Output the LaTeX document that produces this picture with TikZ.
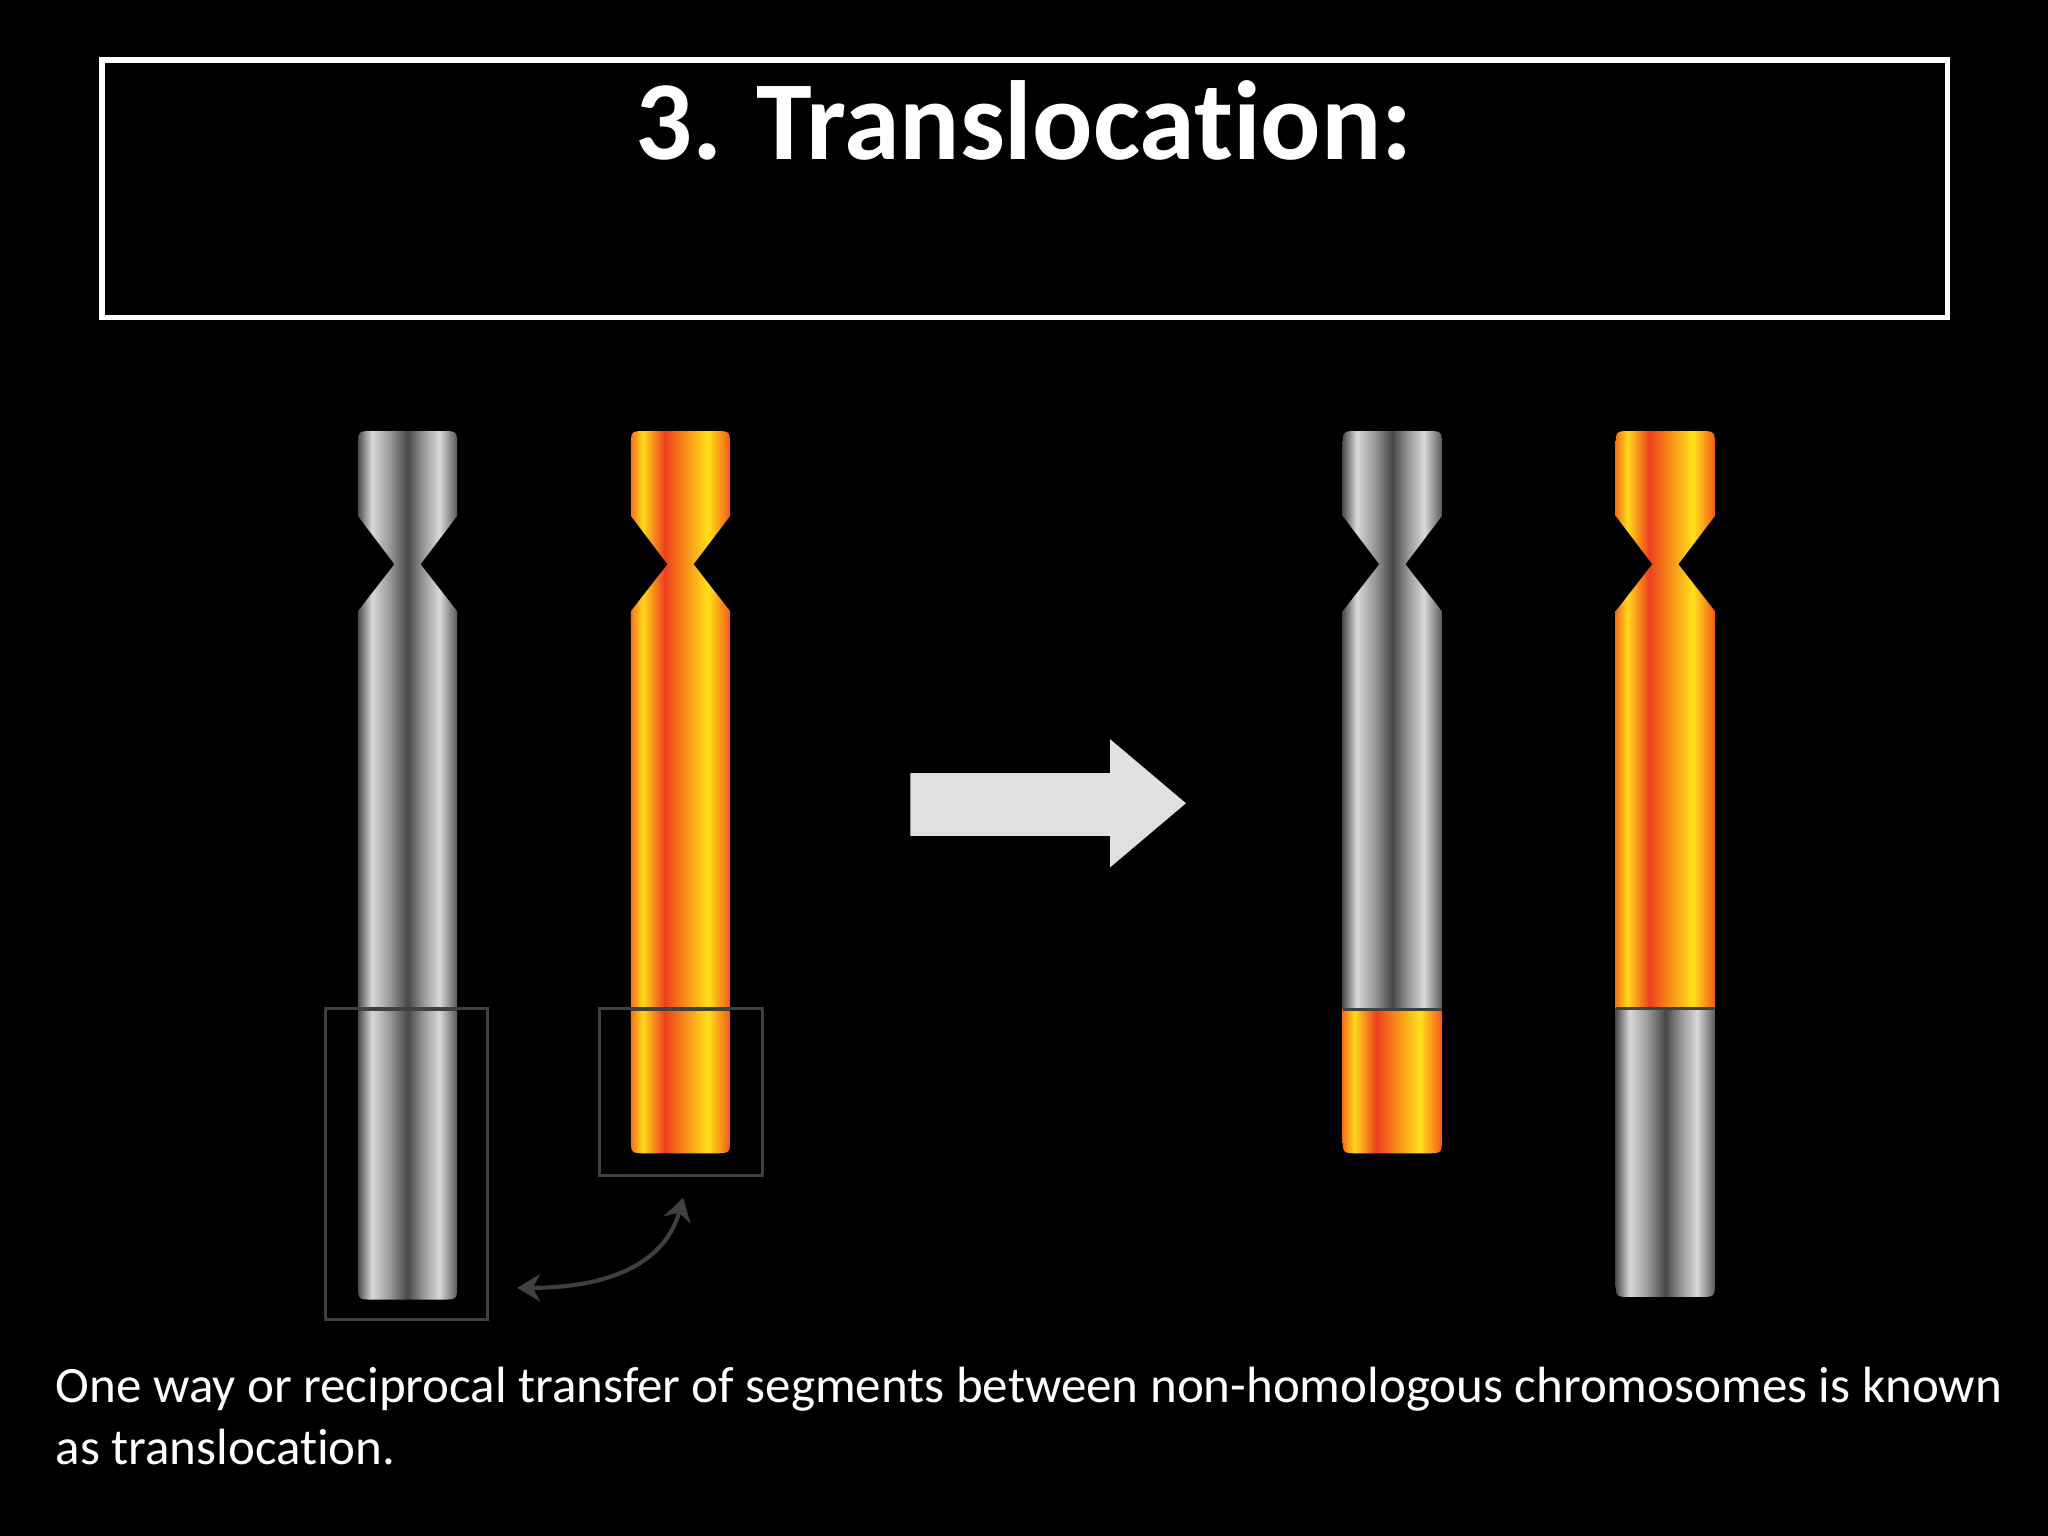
\documentclass[tikz,border=0pt]{standalone}
\usepackage{fontspec}
\setmainfont{Carlito}[Ligatures=NoCommon]
\usetikzlibrary{arrows.meta}
\pgfdeclarehorizontalshading{chromgray}{100bp}{rgb(0bp)=(0.3,0.3,0.3); rgb(25bp)=(0.3,0.3,0.3); rgb(32bp)=(0.85,0.85,0.85); rgb(41bp)=(0.6,0.6,0.6); rgb(50bp)=(0.28,0.28,0.28); rgb(58bp)=(0.6,0.6,0.6); rgb(66bp)=(0.85,0.85,0.85); rgb(75bp)=(0.35,0.35,0.35); rgb(100bp)=(0.35,0.35,0.35)}
\pgfdeclarehorizontalshading{chromorange}{100bp}{rgb(0bp)=(0.95,0.45,0.1); rgb(25bp)=(0.95,0.45,0.1); rgb(31bp)=(1,0.85,0.1); rgb(42bp)=(0.93,0.25,0.12); rgb(52bp)=(0.97,0.55,0.1); rgb(64bp)=(1,0.88,0.1); rgb(75bp)=(0.95,0.35,0.1); rgb(100bp)=(0.95,0.35,0.1)}
\newcommand\chromupper[3]{%
  \fill[shading=#2] (#1,#3) -- (#1,468) -- ({#1+28},432) -- (#1,395) -- (#1,342) .. controls (#1,330) .. ({#1+12},330) -- ({#1+64},330) .. controls ({#1+76},330) .. ({#1+76},342) -- ({#1+76},395) -- ({#1+48},432) -- ({#1+76},468) -- ({#1+76},#3) -- cycle;}
\newcommand\chromlower[4]{%
  \fill[shading=#2] (#1,#3) -- (#1,{#4-12}) .. controls (#1,#4) .. ({#1+12},#4) -- ({#1+64},#4) .. controls ({#1+76},#4) .. ({#1+76},{#4-12}) -- ({#1+76},#3) -- cycle;}
\begin{document}
\begin{tikzpicture}[x=0.01cm,y=-0.01cm,
  breakline/.style={draw=black!75,line width=0.6pt},
  selbox/.style={draw=black!75!white,line width=0.6pt},
  swaparrow/.style={draw=black!75!white,line width=0.9pt,{Stealth[length=5pt,width=6pt]}-{Stealth[length=5pt,width=6pt]}}]
\fill[black] (0,0) rectangle (1568,1176);
\useasboundingbox (0,0) rectangle (1568,1176);
\draw[white,line width=1.2pt] (78,46) rectangle (1491,243);
\node[text=white,font=\fontsize{24.5}{28}\selectfont\bfseries,anchor=base] (title) at (784,122) {3. Translocation:};
% left gray
\chromupper{274}{chromgray}{773}
\chromlower{274}{chromgray}{772}{995}
\draw[breakline] (274,773) -- (350,773);
\draw[selbox] (249,772) rectangle (373,1010);
% left orange
\chromupper{483}{chromorange}{773}
\chromlower{483}{chromorange}{772}{883}
\draw[breakline] (483,773) -- (559,773);
\draw[selbox] (459,772) rectangle (584,900);
% swap arrow
\coordinate (sa) at (396,986);
\coordinate (sb) at (523,917);
\draw[swaparrow] (sa) .. controls (470,986) and (510,965) .. (sb);
% big arrow
\fill[black!12] (697,592) -- (850,592) -- (850,566) -- (908,615) -- (850,664) -- (850,640) -- (697,640) -- cycle;
% right gray
\chromupper{1028}{chromgray}{773}
\chromlower{1028}{chromorange}{772}{883}
\draw[breakline] (1028,773) -- (1104,773);
% right orange
\chromupper{1237}{chromorange}{773}
\chromlower{1237}{chromgray}{772}{993}
\draw[breakline] (1237,772) -- (1313,772);
\node[text=white,font=\fontsize{11.1}{13.4}\selectfont,anchor=north west,align=left,inner sep=0] (caption) at (42,1046) {One way or reciprocal transfer of segments between non-homologous chromosomes is known\\as translocation.};
\end{tikzpicture}
\end{document}
